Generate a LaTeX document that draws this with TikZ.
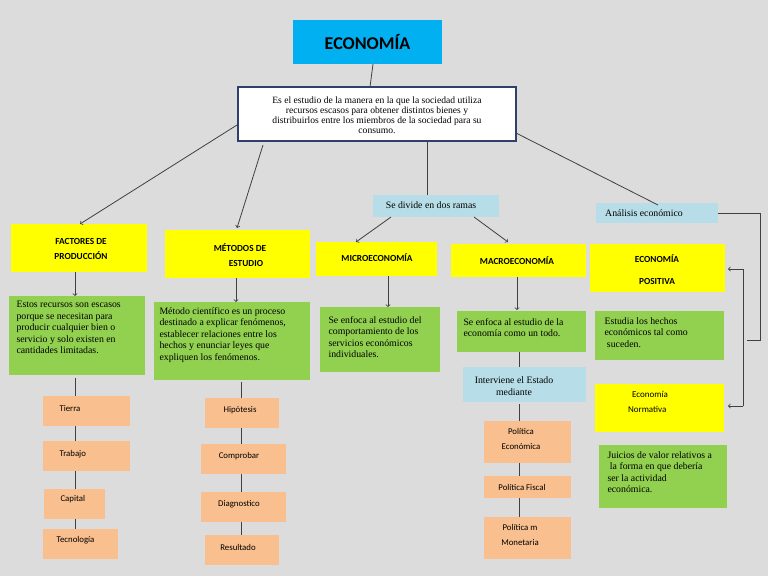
\documentclass[tikz,border=0pt]{standalone}
\usepackage{fontspec}
\setmainfont{Liberation Serif}
\newfontfamily\carl{Carlito}
\begin{document}
\begin{tikzpicture}[x=1pt,y=-1pt,
  ln/.style={draw=black!75,line width=0.8pt},
  ar/.style={ln,->,>=to},
  tx/.style={font=\fontsize{9.8}{11.5}\selectfont,align=left},
  sx/.style={font=\carl\fontsize{9.3}{15}\selectfont\bfseries}]
\useasboundingbox[fill={rgb,255:red,220;green,220;blue,220}] (0,0) rectangle (768,576);
\definecolor{cy}{RGB}{0,176,240}\definecolor{lb}{RGB}{183,222,232}
\definecolor{yl}{RGB}{255,255,0}\definecolor{gr}{RGB}{146,208,80}\definecolor{or}{RGB}{250,191,143}
\definecolor{db}{RGB}{47,64,110}
\newcommand\bx[6]{\fill[#6] (#2,#3) rectangle (#4,#5); \path (#2,#3) rectangle (#4,#5) node[pos=0.5,inner sep=0pt] (#1) {};}
% boxes
\bx{eco}{293}{20}{442}{64}{cy}
\node[font=\carl\fontsize{18}{18}\selectfont\bfseries] at (eco) {ECONOMÍA};
\fill[white] (238,87) rectangle (516,141); \draw[db,line width=1.6pt] (238,87) rectangle (516,141);
\path (238,87) rectangle (516,141) node[pos=0.5,inner sep=0pt] (def) {};
\node[font=\fontsize{9.6}{10}\selectfont,align=center] at (377,115) {Es el estudio de la manera en la que la sociedad utiliza\\recursos escasos para obtener distintos bienes y\\distribuirlos entre los miembros de la sociedad para su\\consumo.};
\bx{div}{373}{195}{499}{217}{lb}\node[tx] at (431,205) {Se divide en dos ramas};
\bx{ana}{596}{203}{718}{223}{lb}\node[tx] at (644,213) {Análisis económico};
\bx{fac}{11}{224}{147}{272}{yl}\node[sx,align=center] at (81,249) {FACTORES DE\\PRODUCCIÓN};
\bx{met}{165}{230}{310}{278}{yl}\node[sx,align=center] at (240,255) {MÉTODOS DE\\\hspace*{12pt}ESTUDIO};
\bx{mic}{316}{242}{437}{276}{yl}\node[sx] at (377,258) {MICROECONOMÍA};
\bx{mac}{451}{244}{586}{277}{yl}\node[sx] at (517,261) {MACROECONOMÍA};
\bx{pos}{590}{244}{725}{292}{yl}\node[align=center,font=\carl\fontsize{9.3}{22}\selectfont\bfseries] at (657,270) {ECONOMÍA\\POSITIVA};
\bx{gfac}{9}{296}{145}{375}{gr}\node[tx,anchor=north west] at (13,298) {Estos recursos son escasos\\porque se necesitan para\\producir cualquier bien o\\servicio y solo existen en\\cantidades limitadas.};
\bx{gmet}{154}{302}{310}{380}{gr}\node[tx,anchor=north west] at (156,304) {Método científico es un proceso\\destinado a explicar fenómenos,\\establecer relaciones entre los\\hechos y enunciar leyes que\\expliquen los fenómenos.};
\bx{gmic}{320}{307}{440}{372}{gr}\node[tx,anchor=north west] at (325,313) {Se enfoca al estudio del\\comportamiento de los\\servicios económicos\\individuales.};
\bx{gmac}{457}{311}{586}{352}{gr}\node[tx,anchor=north west] at (460,315) {Se enfoca al estudio de la\\economía como un todo.};
\bx{gpos}{595}{311}{724}{360}{gr}\node[tx,anchor=north west] at (601,314) {Estudia los hechos\\económicos tal como\\\ suceden.};
\bx{int}{463}{367}{586}{402}{lb}\node[tx,align=center] at (514,386) {Interviene el Estado\\mediante};
\bx{nor}{595}{384}{724}{432}{yl}\node[font=\carl\fontsize{9}{15}\selectfont,align=left] at (648,402) {\ \ Economía\\Normativa};
\bx{gnor}{599}{445}{727}{508}{gr}\node[tx,anchor=north west] at (604,448) {Juicios de valor relativos a\\\ la forma en que debería\\ser la actividad\\económica.};
\tikzset{ob/.style={font=\carl\fontsize{8.8}{15}\selectfont}}
\bx{pe}{484}{421}{571}{463}{or}\node[ob,align=center] at (521,439) {Política\\Económica};
\bx{pf}{484}{476}{571}{498}{or}\node[ob] at (522,487) {Política Fiscal};
\bx{pm}{484}{517}{571}{559}{or}\node[ob,align=center] at (520,535) {Política m\\Monetaria};
\bx{tie}{43}{396}{130}{426}{or}\node[ob,anchor=west] at (56,408) {Tierra};
\bx{tra}{43}{441}{130}{471}{or}\node[ob,anchor=west] at (56,454) {Trabajo};
\bx{cap}{44}{489}{105}{519}{or}\node[ob,anchor=west] at (57,499) {Capital};
\bx{tec}{43}{529}{118}{559}{or}\node[ob,anchor=west] at (53,540) {Tecnología};
\bx{hip}{205}{398}{279}{428}{or}\node[ob] at (240,410) {Hipótesis};
\bx{com}{201}{444}{286}{474}{or}\node[ob] at (239,456) {Comprobar};
\bx{dia}{201}{492}{286}{522}{or}\node[ob] at (239,504) {Diagnostico};
\bx{res}{205}{535}{279}{565}{or}\node[ob] at (238,547) {Resultado};
% connectors
\draw[ln] (373,64) -- (370,87);
\draw[ar] (237,125) -- (80,224);
\draw[ar] (263,145) -- (237,228);
\draw[ln] (427,141) -- (427,195);
\draw[ln] (516,133) -- (658,205);
\draw[ar] (391,217) -- (356,242);
\draw[ar] (474,217) -- (508,242);
\draw[ar] (75,272) -- (75,296);
\draw[ar] (236,278) -- (236,302);
\draw[ar] (388,276) -- (388,307);
\draw[ar] (517,277) -- (517,310);
\draw[ln] (75,378) -- (75,396) (75,426) -- (75,441) (75,471) -- (75,489) (75,519) -- (75,529);
\draw[ln] (241,382) -- (241,398) (241,428) -- (241,444) (241,474) -- (241,492) (241,522) -- (241,535);
\draw[ln] (519,352) -- (519,367) (519,404) -- (519,421) (519,463) -- (519,476) (519,498) -- (519,517);
\draw[ln] (718,213) -- (760,213) -- (760,340) -- (747,340);
\draw[ar] (743,406) -- (743,269) -- (728,269);
\draw[ar] (743,406) -- (728,406);
\end{tikzpicture}
\end{document}
